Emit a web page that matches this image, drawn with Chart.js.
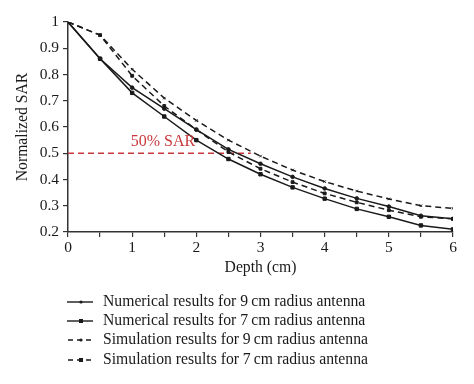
<!DOCTYPE html>
<html>
<head>
<meta charset="utf-8">
<script src="https://cdn.jsdelivr.net/npm/chart.js@4/dist/chart.umd.min.js"></script>
<style>
html,body{margin:0;padding:0;background:#fff;}
#wrap{position:relative;width:474px;height:384px;}
</style>
</head>
<body>
<div id="wrap"><canvas id="c" width="474" height="384"></canvas></div>
<script>
const depths = [0, 0.5, 1, 1.5, 2, 2.5, 3, 3.5, 4, 4.5, 5, 5.5, 6];
const numerical9 = [1, 0.86, 0.75, 0.67, 0.59, 0.515, 0.46, 0.41, 0.366, 0.328, 0.297, 0.262, 0.25];
const numerical7 = [1, 0.86, 0.73, 0.64, 0.55, 0.478, 0.42, 0.37, 0.327, 0.288, 0.258, 0.225, 0.21];
const simulation9 = [1, 0.95, 0.82, 0.71, 0.625, 0.55, 0.489, 0.436, 0.392, 0.356, 0.326, 0.30, 0.29];
const simulation7 = [1, 0.95, 0.795, 0.68, 0.59, 0.505, 0.441, 0.39, 0.347, 0.313, 0.283, 0.258, 0.25];
const seriesNames = [
  'Numerical results for 9\u2009cm radius antenna',
  'Numerical results for 7\u2009cm radius antenna',
  'Simulation results for 9\u2009cm radius antenna',
  'Simulation results for 7\u2009cm radius antenna'
];
const sarLevel = 0.5;
const sarLineEnd = 2.85;
const sarLabel = '50% SAR';
const xTicks = [0, 1, 2, 3, 4, 5, 6];
const yTicks = [0.2, 0.3, 0.4, 0.5, 0.6, 0.7, 0.8, 0.9, 1];

const FONT = '"Liberation Serif", "Times New Roman", serif';
const INK = '#1a1a1a';
const RED = '#c9383c';

function pts(vals){ return depths.map((d,i)=>({x:d, y:vals[i]})); }

const styles = [
  {dash:[], pointStyle:'circle', r:1.8},
  {dash:[], pointStyle:'rect', r:2.4},
  {dash:[6,4], pointStyle:'crossRot', r:1.8},
  {dash:[6,4], pointStyle:'rect', r:2.0}
];
const seriesVals = [numerical9, numerical7, simulation9, simulation7];

const datasets = seriesVals.map((v,i)=>({
  label: seriesNames[i],
  data: pts(v),
  borderColor: INK,
  backgroundColor: INK,
  borderWidth: 1.5,
  borderDash: styles[i].dash,
  pointStyle: styles[i].pointStyle,
  pointRadius: styles[i].r,
  pointBorderWidth: 1,
  pointBorderColor: INK,
  pointBackgroundColor: INK,
  tension: 0,
  order: 1
}));
datasets.push({
  label: '_sar',
  data: [{x:0, y:sarLevel}, {x:sarLineEnd, y:sarLevel}],
  borderColor: RED,
  borderWidth: 1.3,
  borderDash: [6,4],
  pointRadius: 0,
  order: 2
});

const legendPlugin = {
  id: 'customLegend',
  afterDraw(chart){
    const ctx = chart.ctx;
    ctx.save();
    const xs = chart.scales.x, ys = chart.scales.y;
    ctx.fillStyle = RED;
    ctx.font = '16px ' + FONT;
    ctx.textAlign = 'center';
    ctx.textBaseline = 'middle';
    ctx.fillText(sarLabel, (xs.getPixelForValue(1.03)+xs.getPixelForValue(1.93))/2 , ys.getPixelForValue(sarLevel) - 11);
    const rowY = [302, 321, 340, 360];
    ctx.textAlign = 'left';
    ctx.fillStyle = INK;
    for (let i=0;i<4;i++){
      const y = rowY[i];
      ctx.strokeStyle = INK;
      ctx.lineWidth = 1.4;
      ctx.setLineDash(styles[i].dash.length ? [5,4] : []);
      ctx.beginPath();
      ctx.moveTo(i>=2?68:67, y);
      ctx.lineTo(93, y);
      ctx.stroke();
      ctx.setLineDash([]);
      ctx.fillStyle = INK;
      if (styles[i].pointStyle === 'rect'){
        ctx.fillRect(79, y-2, 4, 4);
      } else {
        ctx.beginPath(); ctx.arc(81, y, 1.6, 0, Math.PI*2); ctx.fill();
      }
      ctx.font = '15.7px ' + FONT;
      ctx.fillText(seriesNames[i], 103, y);
    }
    ctx.restore();
  }
};

new Chart(document.getElementById('c'), {
  type: 'line',
  data: { datasets },
  options: {
    responsive: false,
    animation: false,
    events: [],
    layout: { padding: { left: 0, right: 21, top: 22, bottom: 100 } },
    plugins: { legend: { display: false }, tooltip: { enabled: false } },
    scales: {
      x: {
        type: 'linear', min: 0, max: 6,
        afterFit(s){ s.height = 52; },
        afterBuildTicks(s){ s.ticks = [0,0.5,1,1.5,2,2.5,3,3.5,4,4.5,5,5.5,6].map(v=>({value:v})); },
        ticks: {
          autoSkip: false, maxRotation: 0, padding: 2,
          color: INK, font: { family: FONT, size: 15.5 },
          callback: (v)=> xTicks.includes(v) ? String(v) : ''
        },
        grid: { drawOnChartArea: false, drawTicks: true, tickLength: 5, color: '#333', lineWidth: 1.2 },
        border: { color: '#333', width: 1.5 },
        title: { display: true, text: 'Depth (cm)', color: INK, font: { family: FONT, size: 15.7 }, padding: { top: 0, bottom: 7 } }
      },
      y: {
        type: 'linear', min: 0.2, max: 1,
        afterFit(s){ s.width = 68; },
        afterBuildTicks(s){ s.ticks = yTicks.map(v=>({value:v})); },
        ticks: {
          autoSkip: false, padding: 4,
          color: INK, font: { family: FONT, size: 15.5 },
          callback: (v)=> String(Number(v.toFixed(1)))
        },
        grid: { drawOnChartArea: false, drawTicks: true, tickLength: 5, color: '#333', lineWidth: 1.2 },
        border: { color: '#333', width: 1.5 },
        title: { display: true, text: 'Normalized SAR', color: INK, font: { family: FONT, size: 15.7 }, padding: { top: 13, bottom: 0 } }
      }
    }
  },
  plugins: [legendPlugin]
});
</script>
</body>
</html>
